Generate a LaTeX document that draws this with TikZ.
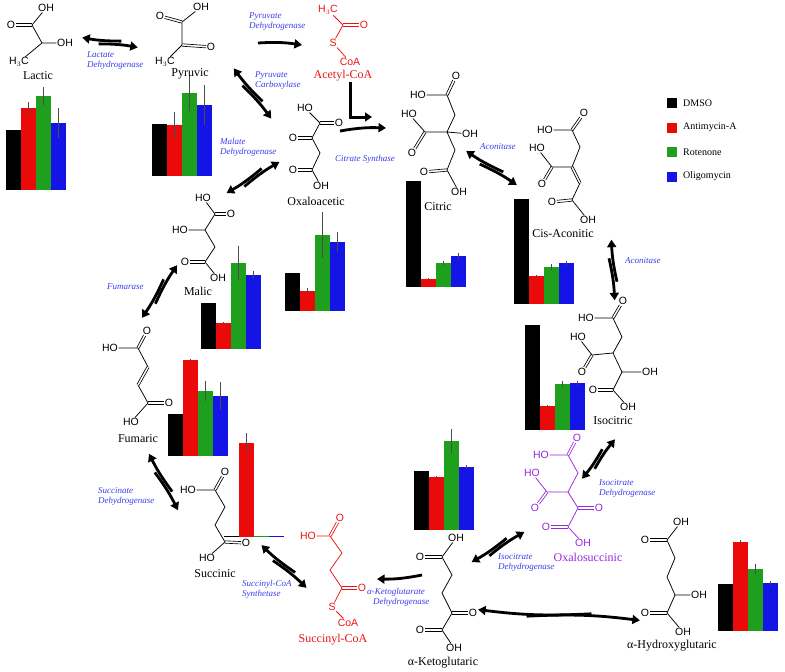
\documentclass[tikz,border=0pt]{standalone}
\usepackage{fontspec}
\setmainfont{Liberation Serif}
\newfontfamily\atomf{Liberation Sans}
\usetikzlibrary{calc,arrows.meta}
\definecolor{bc0}{RGB}{0,0,0}
\definecolor{bc1}{RGB}{235,10,10}
\definecolor{bc2}{RGB}{30,160,30}
\definecolor{bc3}{RGB}{20,20,230}
\definecolor{enzblue}{RGB}{60,60,235}
\definecolor{molred}{RGB}{235,20,20}
\definecolor{molpur}{RGB}{150,40,220}
\tikzset{
 atom/.style={font=\atomf\fontsize{10.5}{11}\selectfont, inner sep=0.6pt},
 bond/.style={line width=0.75pt},
 lab/.style={font=\fontsize{12}{13}\selectfont, inner sep=0},
 enz/.style={font=\itshape\fontsize{9}{10}\selectfont, text=enzblue, align=left, anchor=north west, inner sep=0},
 warr/.style={line width=2.8pt, -{Triangle[length=7.5pt,width=9pt]}},
 leg/.style={font=\fontsize{10}{11}\selectfont, anchor=west, inner sep=0}
}
\newcommand\bars[3]{\foreach \t/\e [count=\i from 0] in {#3}{
  \fill[bc\i] ({#1+15*\i},#2) rectangle ({#1+15*\i+15},\t);
  \ifdim \e pt>0pt \draw[line width=0.4pt, black!70] ({#1+15*\i+7.5},{\t-\e}) -- ({#1+15*\i+7.5},{\t+\e});\fi}}
\newcommand\db[2]{\path (#1) -- (#2) coordinate[pos=0] (dbs) coordinate[pos=1] (dbe);
 \draw[bond,line width=0.65pt] ($(dbs)!1.2pt!90:(dbe)$) -- ($(dbe)!1.2pt!-90:(dbs)$)
   ($(dbs)!1.2pt!-90:(dbe)$) -- ($(dbe)!1.2pt!90:(dbs)$);}
\newcommand\eqarr[2]{%
 \draw[warr] ($(#1)!0.3!(#2)!2.4pt!-90:(#2)$) to[bend left=5] ($(#2)!2.4pt!90:(#1)$);
 \draw[warr] ($(#1)!0.7!(#2)!2.4pt!90:(#2)$) to[bend left=5] ($(#1)!2.4pt!90:(#2)$);}
\begin{document}
\begin{tikzpicture}[x=1pt,y=-1pt]
\useasboundingbox (0,0) rectangle (785,672);
% ---------- bar charts
\bars{6}{190}{130/0,108/6,96/9,123/15}
\bars{152}{176}{124/0,125/13,93/18,105/20}
\bars{285}{311}{273/0,291/3,235/23,242/10}
\bars{201}{349}{303/0,323/1,263/17,275/4}
\bars{168}{456}{414/0,360/1,391/10,396/14}
\bars{224}{537}{536/0,443/10,536/0,536/0}
\bars{406}{287}{181/0,279/1,263/2,256/3}
\bars{514}{304}{199/0,276/1,267/3,263/2}
\bars{525}{430}{325/0,406/1,384/3,383/2}
\bars{414}{530}{471/0,477/1,441/12,467/2}
\bars{718}{631}{584/0,542/2,569/5,583/2}
% ---------- legend
\foreach \c/\t [count=\i from 0] in {bc0/DMSO,bc1/Antimycin-A,bc2/Rotenone,bc3/Oligomycin}{
 \fill[\c] (667,{98+24.5*\i}) rectangle (677,{108+24.5*\i});
 \node[leg] (leg\i) at (683,{103+24.5*\i}) {\t};}
% ---------- Lactic
\coordinate (laC1) at (32,25); \node[atom] (laO) at (11,25){O}; \node[atom](laOH) at (46,8){OH};
\coordinate (laC2) at (42,43); \node[atom](laOH2) at (65,43){OH}; \node[atom](laMe) at (19,62){H$_3$C};
\draw[bond] (laC1)--(laOH) (laC1)--(laC2)--(laOH2) (laC2)--(laMe); \db{laC1}{laO}
\node[lab] (laL) at (38,76){Lactic};
% ---------- Pyruvic
\coordinate (pyC1) at (182,22); \node[atom](pyO) at (160,16){O}; \node[atom](pyOH) at (201,7){OH};
\coordinate (pyC2) at (182,45); \node[atom](pyO2) at (211,47){O}; \node[atom](pyMe) at (165,62){H$_3$C};
\draw[bond] (pyC1)--(pyOH) (pyC1)--(pyC2)--(pyMe); \db{pyC1}{pyO} \db{pyC2}{pyO2}
\node[lab] (pyL) at (190,74){Pyruvic};
% ---------- Acetyl-CoA
\begin{scope}[molred]
\node[atom](acMe) at (328,10){H$_3$C}; \coordinate (acC) at (343,25); \node[atom](acO) at (364,25){O};
\node[atom](acS) at (333,43){S}; \node[atom](acCoA) at (350,62){CoA};
\draw[bond] (acMe)--(acC)--(acS)--(acCoA); \db{acC}{acO}
\node[lab,text=molred] (acL) at (343,76){Acetyl-CoA};
\end{scope}
% ---------- Oxaloacetic
\node[atom](oaHO) at (305,108){HO}; \coordinate (oaC1) at (320,123); \node[atom](oaO1) at (339,123){O};
\coordinate (oaC2) at (312,138); \node[atom](oaO2) at (293,138){O}; \coordinate (oaC3) at (320,153);
\coordinate (oaC4) at (312,170); \node[atom](oaO3) at (293,170){O}; \node[atom](oaOH) at (321,186){OH};
\draw[bond] (oaHO)--(oaC1)--(oaC2)--(oaC3)--(oaC4)--(oaOH); \db{oaC1}{oaO1} \db{oaC2}{oaO2} \db{oaC4}{oaO3}
\node[lab] (oaL) at (316,201){Oxaloacetic};
% ---------- Citric
\node[atom](ciHO) at (418,95){HO}; \coordinate (ciC1) at (447,95); \node[atom](ciO) at (456,76){O};
\coordinate (ciA) at (455,115); \coordinate (ciC) at (447,132); \node[atom](ciOH) at (470,134){OH};
\coordinate (ciC2) at (425,132); \node[atom](ciHO2) at (409,114){HO}; \node[atom](ciO2) at (412,153){O};
\coordinate (ciB) at (455,150); \coordinate (ciC3) at (447,170); \node[atom](ciO3) at (424,172){O};
\node[atom](ciOH3) at (459,192){OH};
\draw[bond] (ciHO)--(ciC1)--(ciA)--(ciC)--(ciOH) (ciC)--(ciC2)--(ciHO2) (ciC)--(ciB)--(ciC3)--(ciOH3);
\db{ciC1}{ciO} \db{ciC2}{ciO2} \db{ciC3}{ciO3}
\node[lab] (ciL) at (438,207){Citric};
% ---------- Cis-Aconitic
\node[atom](caHO) at (545,130){HO}; \coordinate (caC1) at (572,130); \node[atom](caO) at (584,113){O};
\coordinate (caA) at (580,147); \coordinate (caC2) at (572,167); \coordinate (caC3) at (552,167);
\node[atom](caHO2) at (537,148){HO}; \node[atom](caO2) at (542,184){O}; \coordinate (caB) at (580,183);
\coordinate (caC4) at (572,200); \node[atom](caO4) at (552,202){O}; \node[atom](caOH) at (588,220){OH};
\draw[bond] (caHO)--(caC1)--(caA)--(caC2)--(caC3)--(caHO2) (caB)--(caC4)--(caOH);
\db{caC1}{caO} \db{caC3}{caO2} \db{caC2}{caB} \db{caC4}{caO4}
\node[lab] (caL) at (563,234){Cis-Aconitic};
% ---------- Isocitric
\node[atom](isO) at (623,301){O}; \node[atom](isHO) at (586,318){HO}; \coordinate (isC1) at (613,318);
\coordinate (isA) at (622,337); \coordinate (isB) at (613,353); \coordinate (isC2) at (592,355);
\node[atom](isHO2) at (578,337){HO}; \node[atom](isO2) at (582,372){O}; \coordinate (isC) at (622,372);
\node[atom](isOH) at (650,372){OH}; \coordinate (isC3) at (613,390); \node[atom](isO3) at (593,390){O};
\node[atom](isOH3) at (628,407){OH};
\draw[bond] (isHO)--(isC1)--(isA)--(isB)--(isC2)--(isHO2) (isB)--(isC)--(isOH) (isC)--(isC3)--(isOH3);
\db{isC1}{isO} \db{isC2}{isO2} \db{isC3}{isO3}
\node[lab] (isL) at (613,421){Isocitric};
% ---------- Oxalosuccinic
\begin{scope}[molpur]
\node[atom](osO) at (577,438){O}; \node[atom](osHO) at (541,455){HO}; \coordinate (osC1) at (568,455);
\coordinate (osA) at (578,473); \coordinate (osB) at (568,492); \coordinate (osC2) at (547,492);
\node[atom](osHO2) at (532,473){HO}; \node[atom](osO2) at (535,508){O}; \coordinate (osC3) at (578,508);
\node[atom](osO3) at (599,508){O}; \coordinate (osC4) at (568,527); \node[atom](osO4) at (546,527){O};
\node[atom](osOH) at (583,543){OH};
\draw[bond] (osHO)--(osC1)--(osA)--(osB)--(osC2)--(osHO2) (osB)--(osC3)--(osC4)--(osOH);
\db{osC1}{osO} \db{osC2}{osO2} \db{osC3}{osO3} \db{osC4}{osO4}
\node[lab,text=molpur] (osL) at (588,557){Oxalosuccinic};
\end{scope}
% ---------- alpha-Ketoglutaric
\node[atom](kgOH) at (456,538){OH}; \coordinate (kgC1) at (442,557); \node[atom](kgO1) at (420,557){O};
\coordinate (kgA) at (452,575); \coordinate (kgB) at (442,593); \coordinate (kgC2) at (452,613);
\node[atom](kgO2) at (473,613){O}; \coordinate (kgC3) at (442,630); \node[atom](kgO3) at (420,630){O};
\node[atom](kgOH3) at (454,648){OH};
\draw[bond] (kgOH)--(kgC1)--(kgA)--(kgB)--(kgC2)--(kgC3)--(kgOH3);
\db{kgC1}{kgO1} \db{kgC2}{kgO2} \db{kgC3}{kgO3}
\node[lab] (kgL) at (443,663){α-Ketoglutaric};
% ---------- alpha-Hydroxyglutaric
\node[atom](hgOH) at (681,522){OH}; \coordinate (hgC1) at (667,540); \node[atom](hgO1) at (645,540){O};
\coordinate (hgA) at (675,558); \coordinate (hgB) at (667,577); \coordinate (hgC) at (675,595);
\node[atom](hgOH2) at (699,595){OH}; \coordinate (hgC2) at (667,613); \node[atom](hgO2) at (645,613){O};
\node[atom](hgOH3) at (683,632){OH};
\draw[bond] (hgOH)--(hgC1)--(hgA)--(hgB)--(hgC)--(hgOH2) (hgC)--(hgC2)--(hgOH3);
\db{hgC1}{hgO1} \db{hgC2}{hgO2}
\node[lab] (hgL) at (672,646){α-Hydroxyglutaric};
% ---------- Succinyl-CoA
\begin{scope}[molred]
\node[atom](scO) at (340,518){O}; \node[atom](scHO) at (308,536){HO}; \coordinate (scC1) at (330,536);
\coordinate (scA) at (342,553); \coordinate (scB) at (330,570); \coordinate (scC2) at (342,588);
\node[atom](scO2) at (362,588){O}; \node[atom](scS) at (332,607){S}; \node[atom](scCoA) at (348,623){CoA};
\draw[bond] (scHO)--(scC1)--(scA)--(scB)--(scC2)--(scS)--(scCoA); \db{scC1}{scO} \db{scC2}{scO2}
\node[lab,text=molred] (scL) at (333,640){Succinyl-CoA};
\end{scope}
% ---------- Succinic
\node[atom](suO) at (225,472){O}; \node[atom](suHO) at (188,490){HO}; \coordinate (suC1) at (215,490);
\coordinate (suA) at (225,507); \coordinate (suB) at (215,525); \coordinate (suC2) at (225,542);
\node[atom](suO2) at (246,543){O}; \node[atom](suHO2) at (207,558){HO};
\draw[bond] (suHO)--(suC1)--(suA)--(suB)--(suC2)--(suHO2); \db{suC1}{suO} \db{suC2}{suO2}
\node[lab] (suL) at (215,574){Succinic};
% ---------- Malic
\node[atom](maHO) at (203,198){HO}; \coordinate (maC1) at (215,214); \node[atom](maO) at (231,214){O};
\coordinate (maA) at (205,230); \node[atom](maHO2) at (180,230){HO}; \coordinate (maB) at (215,247);
\coordinate (maC2) at (205,262); \node[atom](maO2) at (185,262){O}; \node[atom](maOH) at (218,278){OH};
\draw[bond] (maHO)--(maC1)--(maA)--(maHO2) (maA)--(maB)--(maC2)--(maOH); \db{maC1}{maO} \db{maC2}{maO2}
\node[lab] (maL) at (198,291){Malic};
% ---------- Fumaric
\node[atom](fuO) at (147,331){O}; \node[atom](fuHO) at (110,348){HO}; \coordinate (fuC1) at (138,348);
\coordinate (fuA) at (148,367); \coordinate (fuB) at (138,385); \coordinate (fuC2) at (148,403);
\node[atom](fuO2) at (169,403){O}; \node[atom](fuHO2) at (131,422){HO};
\draw[bond] (fuHO)--(fuC1)--(fuA) (fuB)--(fuC2)--(fuHO2); \db{fuC1}{fuO} \db{fuA}{fuB} \db{fuC2}{fuO2}
\node[lab] (fuL) at (138,439){Fumaric};
% ---------- enzymes
\node[enz] (e1) at (87,51){Lactate\\Dehydrogenase};
\node[enz] (e2) at (249,12){Pyruvate\\Dehydrogenase};
\node[enz] (e3) at (255,71){Pyruvate\\Carboxylase};
\node[enz] (e4) at (220,138){Malate\\Dehydrogenase};
\node[enz] (e5) at (335,155){Citrate Synthase};
\node[enz] (e6) at (480,143){Aconitase};
\node[enz] (e7) at (625,257){Aconitase};
\node[enz] (e8) at (107,283){Fumarase};
\node[enz] (e9) at (98,487){Succinate\\Dehydrogenase};
\node[enz] (e10) at (242,580){Succinyl-CoA\\Synthetase};
\node[enz] (e11) at (367,588){α-Ketoglutarate\\\hspace*{6pt}Dehydrogenase};
\node[enz] (e12) at (599,479){Isocitrate\\Dehydrogenase};
\node[enz] (e13) at (498,553){Isocitrate\\Dehydrogenase};
% ---------- arrows
\coordinate (a1) at (82,40); \coordinate (b1) at (138,45); \eqarr{a1}{b1}
\coordinate (a2) at (258,43); \coordinate (b2) at (302,45); \draw[warr] (a2) to[bend left=6] (b2);
\coordinate (a3) at (232,70); \coordinate (b3) at (273,117); \eqarr{a3}{b3}
\coordinate (a4) at (350,82); \coordinate (b4) at (372,117);
\draw[line width=3pt,-{Triangle[length=7pt,width=9pt]}] (a4) |- (b4);
\coordinate (a5) at (340,131); \coordinate (b5) at (386,128); \draw[warr] (a5) to[bend left=6] (b5);
\coordinate (a6) at (278,160); \coordinate (b6) at (228,195); \eqarr{a6}{b6}
\coordinate (a7) at (465,153); \coordinate (b7) at (518,183); \eqarr{a7}{b7}
\coordinate (a8) at (609,240); \coordinate (b8) at (617,300); \eqarr{a8}{b8}
\coordinate (a9) at (613,438); \coordinate (b9) at (584,480); \eqarr{a9}{b9}
\coordinate (a10) at (523,530); \coordinate (b10) at (473,564); \eqarr{a10}{b10}
\coordinate (a11) at (422,575); \coordinate (b11) at (377,579); \draw[warr] (a11) to[bend left=6] (b11);
\coordinate (a12) at (478,612); \coordinate (b12) at (640,618); \eqarr{a12}{b12}
\coordinate (a13) at (260,547); \coordinate (b13) at (308,586); \eqarr{a13}{b13}
\coordinate (a14) at (147,455); \coordinate (b14) at (180,509); \eqarr{a14}{b14}
\coordinate (a15) at (175,264); \coordinate (b15) at (144,319); \eqarr{a15}{b15}
\end{tikzpicture}
\end{document}
